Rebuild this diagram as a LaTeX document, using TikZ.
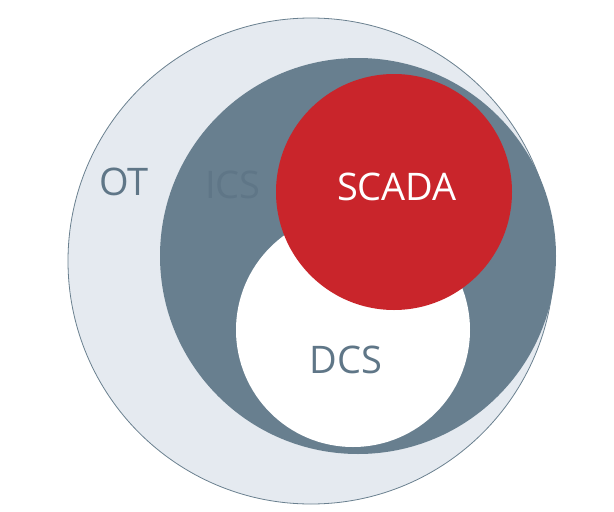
\documentclass[tikz,border=0pt]{standalone}
\usepackage{fontspec}
\setmainfont{Open Sans}
\definecolor{otfill}{HTML}{E5EAF0}
\definecolor{otline}{HTML}{6A808F}
\definecolor{icsfill}{HTML}{687F8F}
\definecolor{scred}{HTML}{C9252B}
\definecolor{txt}{HTML}{5F7687}
\begin{document}
\begin{tikzpicture}[x=1pt,y=-1pt,
  lbl/.style={font=\fontsize{38}{40}\selectfont, text=txt}]
\useasboundingbox (0,0) rectangle (614,512);
\fill[otfill, draw=otline, line width=0.8pt] (311,261) circle (243);
\fill[icsfill] (358,256) circle (198);
\fill[white] (353,330) circle (117);
\fill[scred] (394,192) circle (118);
\node[lbl] (ot) at (124,182) {OT};
\node[lbl] (ics) at (233,185) {ICS};
\node[lbl, text=white] (scada) at (397,187) {SCADA};
\node[lbl] (dcs) at (346,360) {DCS};
\end{tikzpicture}
\end{document}
